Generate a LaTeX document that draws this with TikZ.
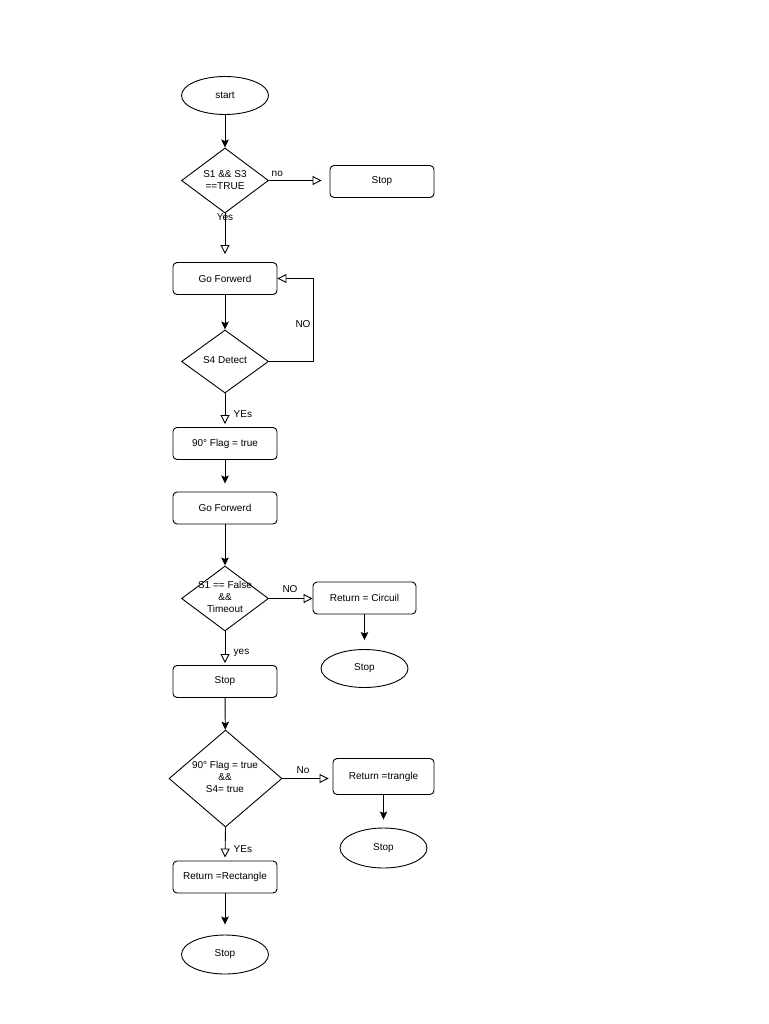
\documentclass[tikz,border=0pt]{standalone}
\usepackage{fontspec}
\setmainfont{Liberation Sans}
\usetikzlibrary{shapes.geometric,arrows.meta}
\begin{document}
\begin{tikzpicture}[x=1pt,y=-1pt,
  every node/.style={font=\fontsize{10}{12}\selectfont},
  box/.style={draw,line width=0.9pt,rounded corners=4pt,minimum width=104pt,minimum height=32pt,inner sep=0pt},
  oval/.style={draw,line width=0.9pt,ellipse,minimum width=87pt,minimum height=38pt,inner sep=0pt},
  dia/.style={draw,line width=0.9pt,diamond,inner sep=0pt},
  txt/.style={align=center,inner sep=0pt},
  lbl/.style={inner sep=0pt},
  fa/.style={line width=0.9pt,-{Stealth[length=8pt,width=7.5pt,inset=1.5pt]}},
  oa/.style={line width=0.9pt,-{Triangle[open,length=9pt,width=9pt,fill=white]}}]
\useasboundingbox[fill=white] (0,0) rectangle (768,1024);

% nodes
\node[oval] (start) at (225,95.5) {start};
\node[dia,minimum width=87pt,minimum height=65pt] (d1) at (225,180.5) {};
\node[txt] (d1t) at (225,180.5) {S1 \&\& S3\\==TRUE};
\node[box,minimum width=104pt] (stop1) at (382,181.5) {Stop};
\node[box] (gf1) at (225,278.5) {Go Forwerd};
\node[dia,minimum width=87pt,minimum height=63pt] (d2) at (225,361.5) {};
\node[txt] (d2t) at (225,360.5) {S4 Detect};
\node[box] (flag) at (225,443.5) {90° Flag = true};
\node[box] (gf2) at (225,508) {Go Forwerd};
\node[dia,minimum width=87pt,minimum height=65pt] (d3) at (225,598.5) {};
\node[txt] (d3t) at (225,596.5) {S1 == False\\\&\&\\Timeout};
\node[box,minimum width=103pt] (circ) at (364.5,598) {Return = Circuil};
\node[oval] (stop2) at (364.5,668.5) {Stop};
\node[box] (stop3) at (225,681.5) {Stop};
\node[dia,minimum width=113pt,minimum height=97pt] (d4) at (225.5,778.5) {};
\node[txt] (d4t) at (225,776.5) {90° Flag = true\\\&\&\\S4= true};
\node[box,minimum width=101pt,minimum height=36pt] (tri) at (383.5,776.5) {Return =trangle};
\node[oval,minimum height=40pt] (stop4) at (383.5,848) {Stop};
\node[box] (rect) at (225,877) {Return =Rectangle};
\node[oval,minimum height=39pt] (stop5) at (225,954.5) {Stop};

% connectors
\draw[fa] (start) -- (d1);
\draw[oa,shorten >=8pt] (d1.east) -- (d1.east -| stop1.west);
\node[lbl,anchor=west] (lno1) at (271.5,173.5) {no};
\draw[oa,shorten >=8pt] (d1.south) -- (gf1.north);
\node[lbl] (lyes1) at (225,217.5) {Yes};
\draw[fa] (gf1) -- (d2);
\draw[oa] (d2.east) -- (313,361.5) -- (313,278.5) -- (gf1.east);
\node[lbl] (lno2) at (303,324.5) {NO};
\draw[oa,shorten >=3pt] (d2.south) -- (flag.north);
\node[lbl,anchor=west] (lyes2) at (233.5,414.5) {YEs};
\draw[fa,shorten >=8pt] (flag) -- (gf2);
\draw[fa] (gf2) -- (d3);
\draw[oa] (d3.east) -- (d3.east -| circ.west);
\node[lbl] (lno3) at (290,589.5) {NO};
\draw[fa,shorten >=9pt] (circ) -- (stop2);
\draw[oa,shorten >=2pt] (d3.south) -- (stop3.north);
\node[lbl,anchor=west] (lyes3) at (233.5,653) {yes};
\draw[fa] (stop3) -- (d4);
\draw[oa,shorten >=4pt] (d4.east) -- (d4.east -| tri.west);
\node[lbl] (lno4) at (303,770.5) {No};
\draw[fa,shorten >=8pt] (tri) -- (stop4);
\draw[oa,shorten >=3pt] (d4.south) -- (rect.north);
\node[lbl,anchor=west] (lyes4) at (233.5,849.5) {YEs};
\draw[fa,shorten >=10pt] (rect) -- (stop5);
\end{tikzpicture}
\end{document}
